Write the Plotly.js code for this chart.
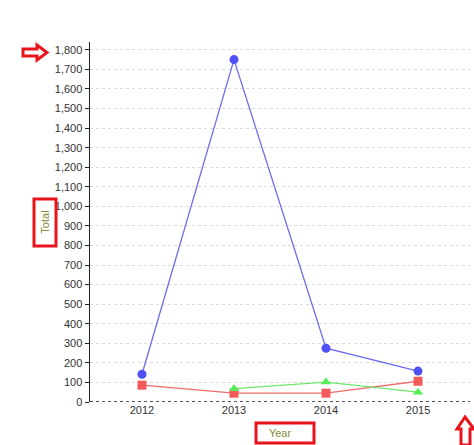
<!DOCTYPE html>
<html><head><meta charset="utf-8">
<script src="https://cdn.plot.ly/plotly-3.0.1.min.js"></script>
<style>html,body{margin:0;padding:0;background:#fff;}#chart{width:474px;height:445px;}</style>
</head><body><div id="chart"></div>
<script>
var years = ['2012', '2013', '2014', '2015'];
var blueValues = [142, 1750, 275, 158];
var redValues = [86, 45, 45, 106];
var greenYears = ['2013', '2014', '2015'];
var greenValues = [68, 102, 50];
var yTicks = [0,100,200,300,400,500,600,700,800,900,1000,1100,1200,1300,1400,1500,1600,1700,1800];

var L = 90, R = 470, T = 42, B = 402;
function px(x) { return (x - L) / (R - L); }
function py(y) { return (B - y) / (B - T); }
function path(pts) {
  return 'M' + pts.map(function (p) { return px(p[0]) + ',' + py(p[1]); }).join('L') + 'Z';
}

var traces = [
  {x: years, y: blueValues, mode: 'lines+markers', line: {color: '#6b6bf0', width: 1.3},
   marker: {color: '#5050f5', size: 9, symbol: 'circle'}},
  {x: years, y: redValues, mode: 'lines+markers', line: {color: '#f06b6b', width: 1.3},
   marker: {color: '#f55a5a', size: 9, symbol: 'square'}},
  {x: greenYears, y: greenValues, mode: 'lines+markers', line: {color: '#6be86b', width: 1.3},
   marker: {color: '#55ee55', size: 9, symbol: 'triangle-up'}}
];

var red = '#e8141c';
var shapes = [
  {type: 'path', xref: 'paper', yref: 'paper', line: {color: red, width: 3}, fillcolor: '#fff',
   path: path([[23,49],[37,49],[37,45],[47,52.5],[37,60],[37,56],[23,56]])},
  {type: 'path', xref: 'paper', yref: 'paper', line: {color: red, width: 3}, fillcolor: '#fff',
   path: path([[465,417],[474,429],[470,429],[470,445],[461,445],[461,429],[457,429]])},
  {type: 'rect', xref: 'paper', yref: 'paper', line: {color: red, width: 3}, fillcolor: 'rgba(0,0,0,0)',
   x0: px(34), x1: px(56), y0: py(199), y1: py(246)},
  {type: 'rect', xref: 'paper', yref: 'paper', line: {color: red, width: 3}, fillcolor: 'rgba(0,0,0,0)',
   x0: px(256), x1: px(314), y0: py(423), y1: py(443)}
];

var layout = {
  width: 474, height: 445,
  margin: {l: L, r: 474 - R, t: T, b: 445 - B, pad: 0},
  paper_bgcolor: '#fff', plot_bgcolor: '#fff',
  showlegend: false,
  font: {family: 'Liberation Sans, Arial, sans-serif', size: 11, color: '#333'},
  xaxis: {
    type: 'category', range: [-0.565, 3.565], showgrid: false, zeroline: false,
    showline: false, ticks: '', tickfont: {size: 11, color: '#333'},
    title: {text: 'Year', font: {size: 11, color: '#8a8a3c'}, standoff: 14}
  },
  yaxis: {
    range: [0, 1840], tickvals: yTicks, tickformat: ',d', showgrid: true,
    gridcolor: '#dadada', griddash: 'dot', gridwidth: 1, zeroline: false,
    showline: true, linecolor: '#222', linewidth: 1.5, ticks: 'outside', ticklen: 4,
    tickcolor: '#222', tickfont: {size: 11, color: '#333'},
    title: {text: 'Total', font: {size: 11, color: '#8a8a3c'}, standoff: 3}
  },
  shapes: shapes.concat([
    {type: 'line', xref: 'paper', yref: 'y', x0: 0, x1: 1, y0: 0, y1: 0,
     line: {color: '#555', width: 2, dash: 'dot'}}
  ])
};

Plotly.newPlot('chart', traces, layout, {displayModeBar: false, staticPlot: true});
</script>
</body></html>
